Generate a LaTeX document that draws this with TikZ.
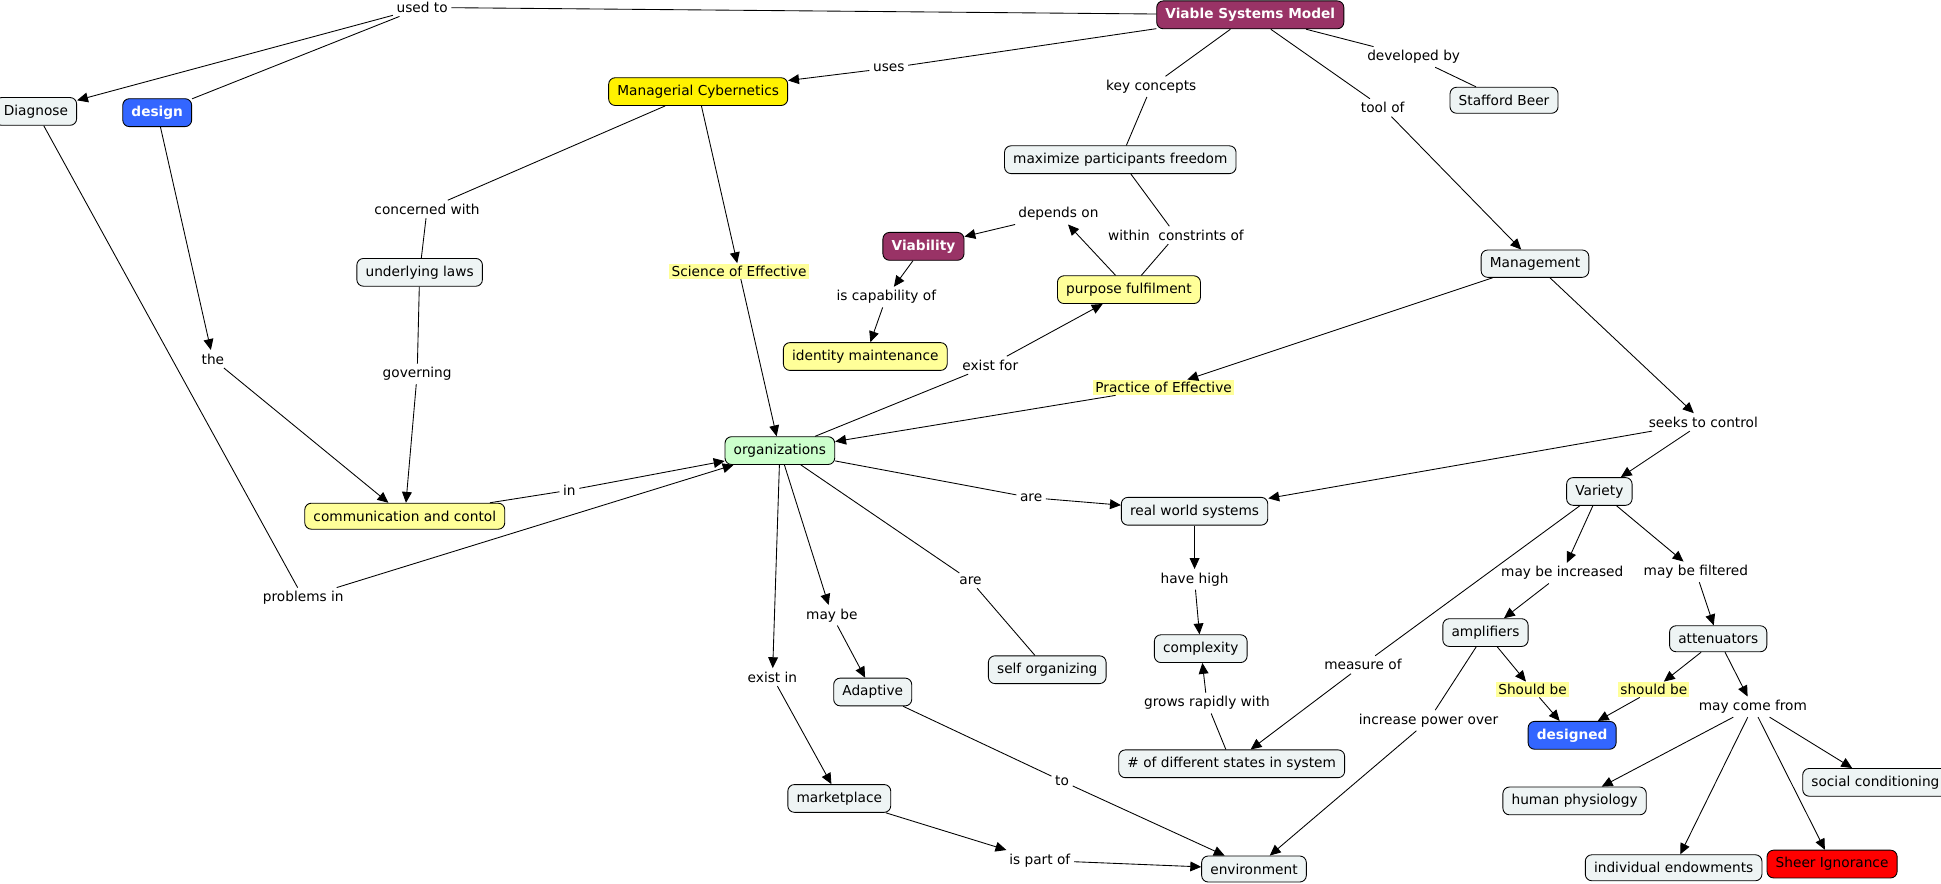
\documentclass[tikz,border=0pt]{standalone}
\usepackage{fontspec}
\setmainfont{DejaVu Sans}
\usetikzlibrary{arrows.meta}
\definecolor{cfill}{HTML}{EEF4F4}
\definecolor{vpurple}{HTML}{993366}
\definecolor{lyel}{HTML}{FFFF99}
\definecolor{bblue}{HTML}{3366FF}
\definecolor{lgreen}{HTML}{CCFFCC}
\begin{document}
\begin{tikzpicture}[x=0.02cm,y=-0.02cm,
  every node/.style={font=\fontsize{6.3}{7.5}\selectfont},
  cpt/.style={draw,rounded corners=3pt,fill=cfill,inner xsep=4pt,minimum height=0.42cm},
  lab/.style={inner sep=1.5pt},
  hl/.style={fill=lyel,inner sep=1pt},
  ar/.style={-{Triangle[length=5pt,width=4.5pt]}},
  ln/.style={}]
\useasboundingbox (0,0) rectangle (1568,714);
% concepts
\node[cpt,fill=vpurple,text=white,font=\fontsize{6.3}{7.5}\selectfont\bfseries] (vsm) at (1010,12) {Viable Systems Model};
\node[cpt] (diag) at (29,90) {Diagnose};
\node[cpt,fill=bblue,text=white,font=\fontsize{6.3}{7.5}\selectfont\bfseries] (design) at (127,91) {design};
\node[cpt,fill=yellow] (mc) at (564,74) {Managerial Cybernetics};
\node[cpt] (sb) at (1215,81) {Stafford Beer};
\node[cpt] (maxpf) at (905,129) {maximize participants freedom};
\node[cpt,fill=vpurple,text=white,font=\fontsize{6.3}{7.5}\selectfont\bfseries] (via) at (746,199) {Viability};
\node[cpt] (mgmt) at (1240,213) {Management};
\node[cpt] (ul) at (339,220) {underlying laws};
\node[cpt,fill=lyel] (pf) at (912,234) {purpose fulfilment};
\node[cpt,fill=lyel] (im) at (699,288) {identity maintenance};
\node[cpt,fill=lgreen] (org) at (630,364) {organizations};
\node[cpt] (var) at (1292,397) {Variety};
\node[cpt,fill=lyel] (comm) at (327,417) {communication and contol};
\node[cpt] (rws) at (965,413) {real world systems};
\node[cpt] (amp) at (1200,511) {amplifiers};
\node[cpt] (att) at (1388,516) {attenuators};
\node[cpt] (cx) at (970,524) {complexity};
\node[cpt] (so) at (846,541) {self organizing};
\node[cpt] (adp) at (705,559) {Adaptive};
\node[cpt,fill=bblue,text=white,font=\fontsize{6.3}{7.5}\selectfont\bfseries] (des) at (1270,594) {designed};
\node[cpt] (ns) at (995,617) {\# of different states in system};
\node[cpt] (sc) at (1515,632) {social conditioning};
\node[cpt] (hp) at (1272,647) {human physiology};
\node[cpt] (mp) at (678,645) {marketplace};
\node[cpt] (env) at (1013,702) {environment};
\node[cpt] (ie) at (1352,701) {individual endowments};
\node[cpt,fill=red] (si) at (1480,698) {Sheer Ignorance};
% labels
\node[lab] (usedto) at (341,6) {used to};
\node[lab] (uses) at (718,55) {uses};
\node[lab] (kc) at (930,70) {key concepts};
\node[lab] (devby) at (1142,46) {developed by};
\node[lab] (toolof) at (1117,87) {tool of};
\node[lab] (cw) at (345,169) {concerned with};
\node[lab] (dep) at (855,173) {depends on};
\node[lab] (within) at (950,190) {within\ \ constrints of};
\node[hl] (sci) at (597,219) {Science of Effective};
\node[lab] (icap) at (716,240) {is capability of};
\node[lab] (the) at (172,290) {the};
\node[lab] (exfor) at (800,295) {exist for};
\node[lab] (gov) at (337,302) {governing};
\node[hl] (prac) at (940,313) {Practice of Effective};
\node[lab] (seeks) at (1376,341) {seeks to control};
\node[lab] (in) at (460,396) {in};
\node[lab] (are) at (833,402) {are};
\node[lab] (hh) at (965,468) {have high};
\node[lab] (are2) at (784,469) {are};
\node[lab] (pin) at (245,483) {problems in};
\node[lab] (mbi) at (1262,463) {may be increased};
\node[lab] (mbf) at (1370,462) {may be filtered};
\node[lab] (mb) at (672,497) {may be};
\node[lab] (meas) at (1101,537) {measure of};
\node[lab] (exin) at (624,547) {exist in};
\node[hl] (sb1) at (1238,557) {Should be};
\node[hl] (sb2) at (1336,557) {should be};
\node[lab] (grows) at (975,568) {grows rapidly with};
\node[lab] (mcf) at (1416,571) {may come from};
\node[lab] (ipo) at (1154,582) {increase power over};
\node[lab] (to) at (858,631) {to};
\node[lab] (ipof) at (840,695) {is part of};
% edges
\draw (vsm) -- (usedto);
\draw[ar] (usedto) -- (diag);
\draw (design) -- (usedto);
\draw (vsm) -- (uses); \draw[ar] (uses) -- (mc);
\draw (vsm) -- (kc); \draw (kc) -- (maxpf);
\draw (vsm) -- (devby); \draw (devby) -- (sb);
\draw (vsm) -- (toolof); \draw[ar] (toolof) -- (mgmt);
\draw (mc) -- (cw); \draw (cw) -- (ul);
\draw[ar] (mc) -- (sci); \draw[ar] (sci) -- (org);
\draw (ul) -- (gov); \draw[ar] (gov) -- (comm);
\draw[ar] (design) -- (the); \draw[ar] (the) -- (comm);
\draw (diag) -- (pin); \draw[ar] (pin) -- (org);
\draw (comm) -- (in); \draw[ar] (in) -- (org);
\draw[ar] (pf) -- (dep); \draw[ar] (dep) -- (via);
\draw (maxpf) -- (within); \draw (within) -- (pf);
\draw[ar] (via) -- (icap); \draw[ar] (icap) -- (im);
\draw (org) -- (exfor); \draw[ar] (exfor) -- (pf);
\draw[ar] (mgmt) -- (prac); \draw[ar] (prac) -- (org);
\draw[ar] (mgmt) -- (seeks); \draw[ar] (seeks) -- (var); \draw[ar] (seeks) -- (rws);
\draw (org) -- (are); \draw[ar] (are) -- (rws);
\draw (org) -- (are2); \draw (are2) -- (so);
\draw[ar] (org) -- (mb); \draw[ar] (mb) -- (adp);
\draw[ar] (org) -- (exin); \draw[ar] (exin) -- (mp);
\draw[ar] (rws) -- (hh); \draw[ar] (hh) -- (cx);
\draw (ns) -- (grows); \draw[ar] (grows) -- (cx);
\draw (var) -- (meas); \draw[ar] (meas) -- (ns);
\draw[ar] (var) -- (mbi); \draw[ar] (mbi) -- (amp);
\draw[ar] (var) -- (mbf); \draw[ar] (mbf) -- (att);
\draw[ar] (amp) -- (sb1); \draw[ar] (sb1) -- (des);
\draw[ar] (att) -- (sb2); \draw[ar] (sb2) -- (des);
\draw (amp) -- (ipo); \draw[ar] (ipo) -- (env);
\draw[ar] (att) -- (mcf);
\draw[ar] (mcf) -- (hp); \draw[ar] (mcf) -- (ie); \draw[ar] (mcf) -- (si); \draw[ar] (mcf) -- (sc);
\draw (adp) -- (to); \draw[ar] (to) -- (env);
\draw[ar] (mp) -- (ipof); \draw[ar] (ipof) -- (env);
\end{tikzpicture}
\end{document}
